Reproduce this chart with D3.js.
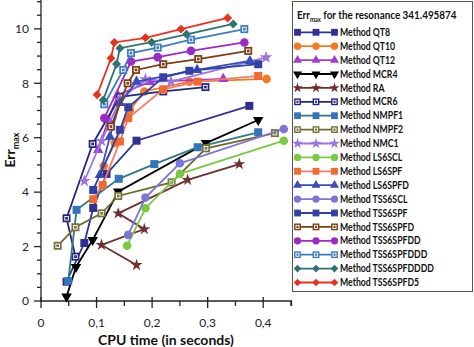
<!DOCTYPE html>
<html><head><meta charset="utf-8">
<script src="https://cdn.jsdelivr.net/npm/d3@7"></script>
<style>
body{margin:0;background:#fff;}
svg{display:block;font-family:Lato,"Open Sans",sans-serif;}
</style></head>
<body><svg id="c" width="474" height="347"></svg>
<script>
// ---- data ----
const methods = ["QT8","QT10","QT12","MCR4","RA","MCR6","NMPF1","NMPF2","NMC1","LS6SCL","LS6SPF","LS6SPFD","TSS6SCL","TSS6SPF","TSS6SPFD","TSS6SPFDD","TSS6SPFDDD","TSS6SPFDDDD","TSS6SPFD5"];
const xTicks = [0,0.1,0.2,0.3,0.4];
const xTickLabels = ["0","0,1","0,2","0,3","0,4"];
const yTicks = [0,2,4,6,8,10];

const qt8X = [0.046,0.078,0.094,0.118,0.172,0.375];
const qt8Y = [0.71,2.13,3.42,4.67,5.89,7.17];
const qt10X = [0.113,0.133,0.160,0.186,0.267,0.406];
const qt10Y = [4.96,5.81,7.02,7.70,8.06,8.16];
const qt12X = [0.103,0.121,0.138,0.196,0.328];
const qt12Y = [5.55,6.65,7.57,8.05,8.16];
const mcr4X = [0.046,0.063,0.093,0.139,0.297,0.391];
const mcr4Y = [0.16,1.25,2.24,4.02,5.80,6.65];
const raX = [0.172,0.109,0.186,0.139,0.264,0.357];
const raY = [1.32,2.06,2.64,3.22,4.45,5.03];
const mcr6X = [0.062,0.046,0.093,0.142,0.220,0.296];
const mcr6Y = [1.63,3.04,5.77,7.50,7.70,7.86];
const nmpf1X = [0.049,0.064,0.140,0.204,0.282,0.391];
const nmpf1Y = [0.73,3.35,4.49,5.03,5.65,6.20];
const nmpf2X = [0.030,0.062,0.109,0.139,0.235,0.297,0.421];
const nmpf2Y = [2.03,2.71,3.22,3.86,4.36,5.61,6.17];
const nmc1X = [0.078,0.109,0.142,0.188,0.234,0.405];
const nmc1Y = [4.41,5.88,7.39,8.15,8.06,8.95];
const ls6sclX = [0.155,0.188,0.250,0.437];
const ls6sclY = [2.03,3.41,4.67,5.89];
const ls6spfX = [0.094,0.111,0.142,0.157,0.220,0.282,0.391];
const ls6spfY = [3.74,4.26,5.86,6.72,7.78,8.06,8.27];
const ls6spfdX = [0.106,0.124,0.142,0.172,0.281,0.376];
const ls6spfdY = [4.63,6.04,7.28,8.06,8.49,8.82];
const tss6sclX = [0.157,0.188,0.250,0.437];
const tss6sclY = [2.43,3.80,5.06,6.32];
const tss6spfX = [0.094,0.142,0.157,0.220,0.267,0.391];
const tss6spfY = [4.08,6.29,7.12,8.22,8.46,8.70];
const tss6spfdX = [0.126,0.156,0.171,0.220,0.283,0.373];
const tss6spfdY = [6.41,8.00,8.49,8.70,8.89,9.19];
const tss6spfddX = [0.114,0.162,0.210,0.270,0.366];
const tss6spfddY = [6.72,8.80,8.96,9.19,9.50];
const tss6spfdddX = [0.114,0.148,0.162,0.210,0.270,0.366];
const tss6spfdddY = [7.23,8.49,9.11,9.31,9.60,9.99];
const tss6spfddddX = [0.112,0.136,0.142,0.199,0.262,0.346];
const tss6spfddddY = [7.39,8.71,9.29,9.51,9.80,10.18];
const tss6spfd5X = [0.101,0.126,0.132,0.188,0.252,0.336];
const tss6spfd5Y = [7.58,8.92,9.50,9.67,9.99,10.40];

const seriesX = [qt8X,qt10X,qt12X,mcr4X,raX,mcr6X,nmpf1X,nmpf2X,nmc1X,ls6sclX,ls6spfX,ls6spfdX,tss6sclX,tss6spfX,tss6spfdX,tss6spfddX,tss6spfdddX,tss6spfddddX,tss6spfd5X];
const seriesY = [qt8Y,qt10Y,qt12Y,mcr4Y,raY,mcr6Y,nmpf1Y,nmpf2Y,nmc1Y,ls6sclY,ls6spfY,ls6spfdY,tss6sclY,tss6spfY,tss6spfdY,tss6spfddY,tss6spfdddY,tss6spfddddY,tss6spfd5Y];

// ---- styles ----
const markerColors = ["#2e3192","#f47920","#a23bd0","#000000","#6d2f2f","#25277a","#3474b8","#77733a","#9d73e0","#7ac943","#f26a2e","#3a4cb8","#7b76d6","#3142a6","#7b3f12","#9b2bc4","#3d7cc0","#2e7370","#e8321e"];
const lineColors   = ["#2e3192","#f47920","#a23bd0","#000000","#6d2f2f","#25277a","#2f7a86","#6e6b2c","#9d73e0","#7ac943","#f47a6a","#3a4cb8","#7b76d6","#3142a6","#7b3f12","#9b2bc4","#3d7cc0","#2e7370","#e8321e"];
const markerTypes  = ["square","circle","triangle","triangleDown","star","hollow","square","hollow","star6","circle","square","triangle","circle","square","hollow","circle","hollow","diamond","diamond"];

const svg = d3.select("#c");
const x = d3.scaleLinear().domain([0,0.45]).range([41,291]);
const y = d3.scaleLinear().domain([0,11.06]).range([301,0]);

function marker(g, type, color, cx, cy, s){
  s = s || 1;
  if(type==="square"){
    g.append("rect").attr("x",cx-4*s).attr("y",cy-4*s).attr("width",8*s).attr("height",8*s).attr("fill",color);
  } else if(type==="hollow"){
    g.append("rect").attr("x",cx-4*s).attr("y",cy-4*s).attr("width",8*s).attr("height",8*s).attr("fill",color);
    g.append("rect").attr("x",cx-1.8*s).attr("y",cy-1.8*s).attr("width",3.6*s).attr("height",3.6*s).attr("fill","none").attr("stroke","#fff").attr("stroke-width",0.9);
  } else if(type==="circle"){
    g.append("circle").attr("cx",cx).attr("cy",cy).attr("r",4.3*s).attr("fill",color);
  } else {
    let sym, rot=0, size=50*s*s;
    if(type==="triangle"){sym=d3.symbolTriangle; size=48*s*s;}
    else if(type==="triangleDown"){sym=d3.symbolTriangle; rot=180; size=48*s*s;}
    else if(type==="star"){sym=d3.symbolStar; size=45*s*s;}
    else if(type==="star6"){sym=d3.symbolStar; size=50*s*s;}
    else if(type==="diamond"){sym=d3.symbolSquare; rot=45; size=40*s*s;}
    g.append("path").attr("d",d3.symbol().type(sym).size(size)())
      .attr("transform",`translate(${cx},${cy}) rotate(${rot})`).attr("fill",color);
  }
}

// axes
const ax = svg.append("g").attr("stroke","#222").attr("stroke-width",1.3);
ax.append("line").attr("x1",41).attr("x2",41).attr("y1",0).attr("y2",301);
ax.append("line").attr("x1",40.4).attr("x2",292).attr("y1",301).attr("y2",301);
ax.append("line").attr("x1",291.5).attr("x2",291.5).attr("y1",301).attr("y2",306);
d3.range(0,0.451,0.05).forEach((v,i)=>{
  const major = i%2===0;
  ax.append("line").attr("x1",x(v)).attr("x2",x(v)).attr("y1",major?297:301).attr("y2",major?308:306);
});
d3.range(0,11.01,0.5).forEach((v,i)=>{
  const major = (i%4===0);
  ax.append("line").attr("x1",major?34:37).attr("x2",41).attr("y1",y(v)).attr("y2",y(v));
});
svg.append("g").selectAll("text").data(xTicks).join("text")
  .attr("x",d=>x(d)).attr("y",327).attr("text-anchor","middle")
  .attr("font-size",12).attr("fill","#222").text((d,i)=>xTickLabels[i]);
svg.append("g").selectAll("text").data(yTicks).join("text")
  .attr("x",29).attr("y",d=>y(d)+4.3).attr("text-anchor","end")
  .attr("font-size",12).attr("fill","#222").text(d=>d);

svg.append("text").attr("x",166).attr("y",345).attr("text-anchor","middle")
  .attr("font-size",14).attr("font-weight","bold").attr("fill","#111").text("CPU time (in seconds)");
const yl = svg.append("text").attr("transform","translate(15,150) rotate(-90)").attr("text-anchor","middle")
  .attr("font-size",14).attr("font-weight","bold").attr("fill","#111");
yl.append("tspan").text("Err");
yl.append("tspan").attr("font-size",9).attr("dy",4).text("max");

// series
const line = d3.line();
const plot = svg.append("g");
methods.forEach((m,i)=>{
  const pts = seriesX[i].map((v,j)=>[x(v),y(seriesY[i][j])]);
  const g = plot.append("g");
  g.append("path").attr("d",line(pts)).attr("fill","none").attr("stroke",lineColors[i]).attr("stroke-width",1.8);
  pts.forEach(p=>marker(g,markerTypes[i],markerColors[i],p[0],p[1]));
});

// legend
const lg = svg.append("g");
lg.append("rect").attr("x",292.5).attr("y",1.5).attr("width",180).attr("height",290).attr("fill","#fff").attr("stroke","#555").attr("stroke-width",1);
const tt = lg.append("text").attr("transform","translate(297,19) scale(0.9,1)").attr("font-size",11).attr("font-weight","bold").attr("fill","#111");
tt.append("tspan").text("Err");
tt.append("tspan").attr("font-size",6.5).attr("dy",3).text("max");
tt.append("tspan").attr("dy",-3).text(" for the resonance 341.495874");
methods.forEach((m,i)=>{
  const cy = 32.3 + i*13.9;
  const g = lg.append("g");
  g.append("line").attr("x1",297).attr("x2",335).attr("y1",cy).attr("y2",cy).attr("stroke",lineColors[i]).attr("stroke-width",1.8);
  [297.5,316,334.5].forEach(cx=>marker(g,markerTypes[i],markerColors[i],cx,cy,0.85));
  g.append("text").attr("transform",`translate(340,${cy+3.6}) scale(0.83,1)`).attr("font-size",10.5).attr("font-weight","bold").attr("fill","#111").text("Method "+m);
});
</script></body></html>
